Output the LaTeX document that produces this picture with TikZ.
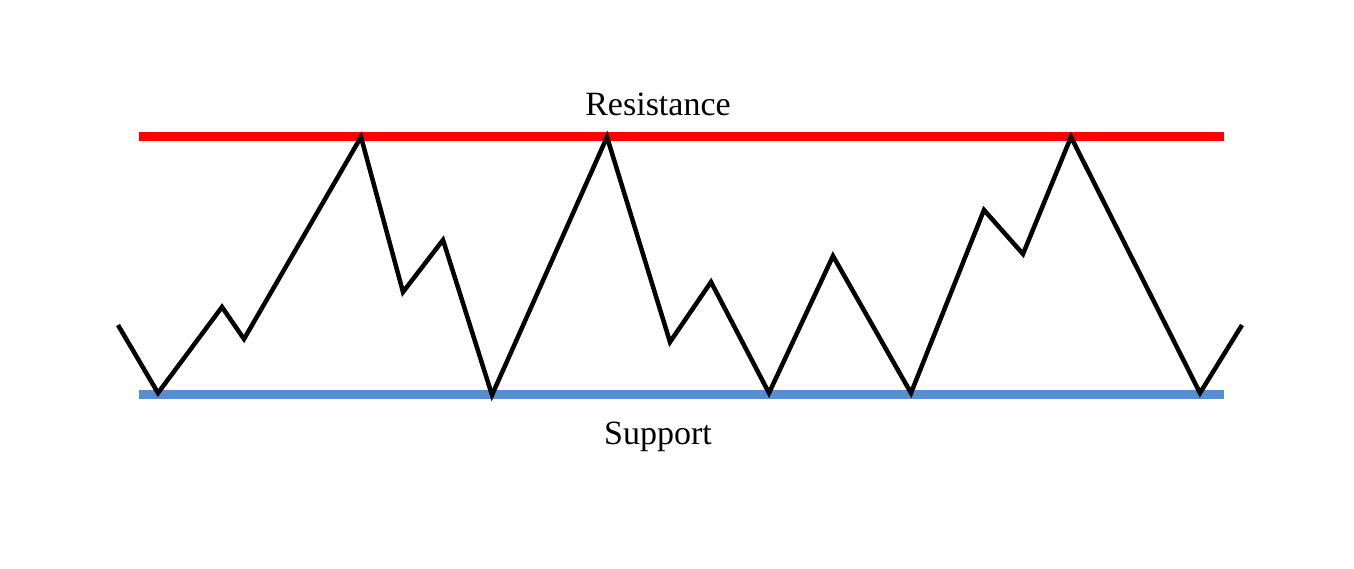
\documentclass[tikz,border=0pt]{standalone}
\usepackage{fontspec}
\setmainfont{Liberation Serif}
\definecolor{resred}{RGB}{255,0,0}
\definecolor{supblue}{RGB}{85,142,213}
\begin{document}
\begin{tikzpicture}[x=1pt,y=-1pt,
  level/.style={line width=9pt},
  price/.style={line width=4.5pt,line join=miter,black},
  lab/.style={font=\fontsize{34}{40}\selectfont,inner sep=0pt}]
\useasboundingbox (0,0) rectangle (1354,568);
\draw[level,resred] (139,136) -- (1224,136);
\draw[level,supblue] (139,394) -- (1224,394);
\draw[price] (118,325) -- (158,393) -- (222,307) -- (244,339) -- (361,137) -- (403,292) -- (443,240) -- (492,395) -- (607,137) -- (670,342) -- (711,282) -- (769,393) -- (833,256) -- (911,393) -- (984,210) -- (1023,254) -- (1071,137) -- (1200,393) -- (1242,325);
\node[lab] (res) at (658,104) {Resistance};
\node[lab] (sup) at (658,437) {Support};
\end{tikzpicture}
\end{document}
